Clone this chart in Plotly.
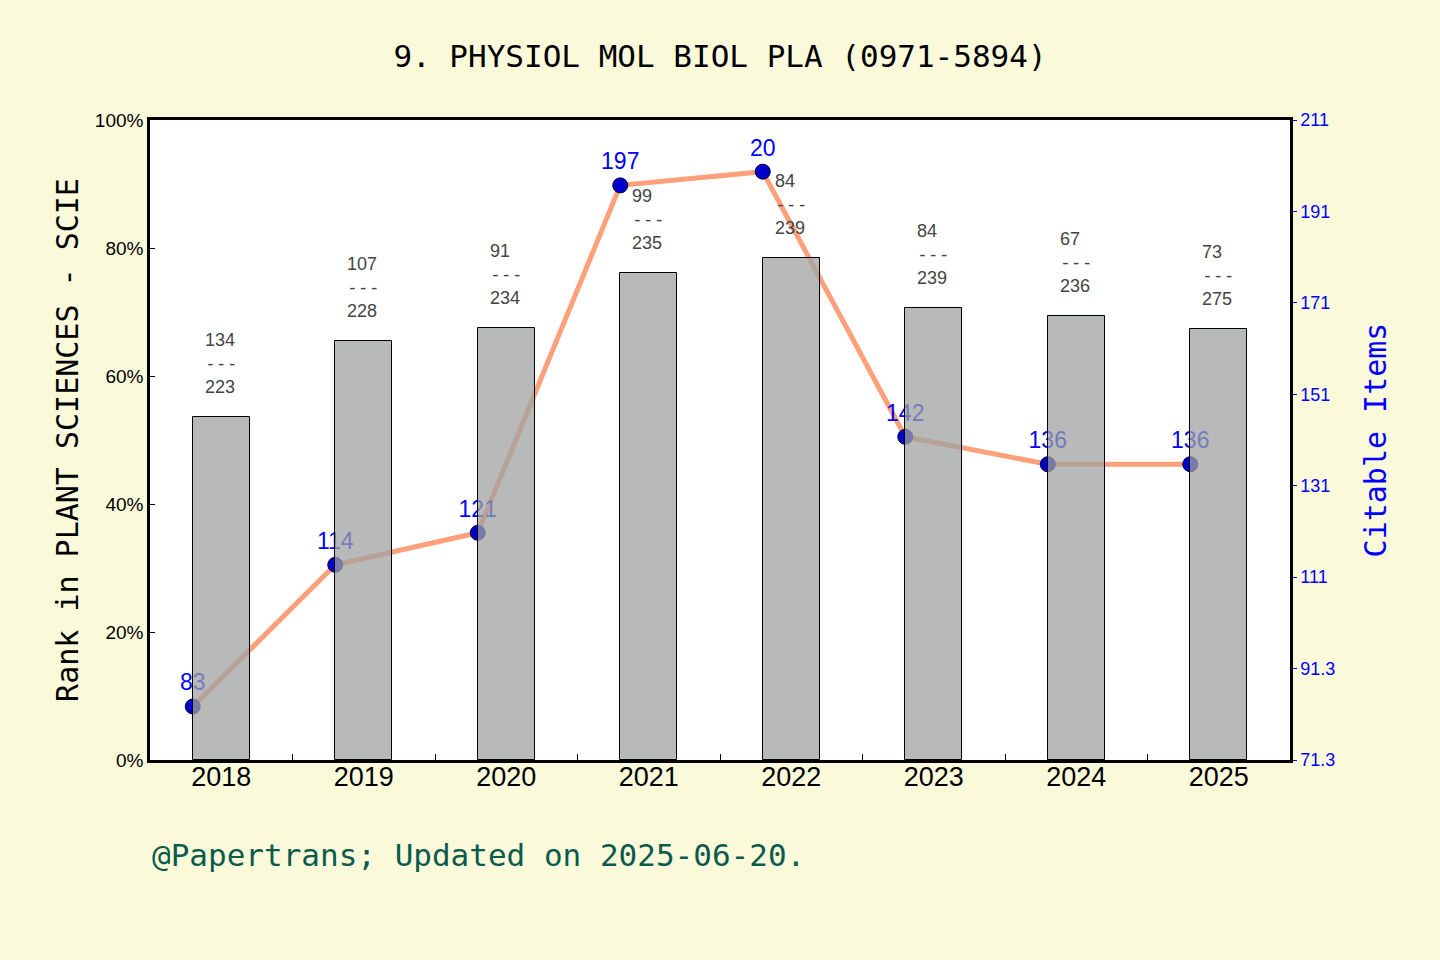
import plotly.graph_objects as go

years = ["2018", "2019", "2020", "2021", "2022", "2023", "2024", "2025"]
rank_pct = [0.536, 0.655, 0.675, 0.761, 0.784, 0.706, 0.694, 0.673]
rank_num = [134, 107, 91, 99, 84, 84, 67, 73]
rank_total = [223, 228, 234, 235, 239, 239, 236, 275]
citable = [83, 114, 121, 197, 200, 142, 136, 136]
citable_labels = ["83", "114", "121", "197", "20", "142", "136", "136"]
right_ticks = [71.3, 91.3, 111.3, 131.3, 151.3, 171.3, 191.3, 211.3]
right_ticktext = ["71.3", "91.3", "111", "131", "151", "171", "191", "211"]
left_ticks = [0, 0.2, 0.4, 0.6, 0.8, 1.0]

xs = list(range(len(years)))
line_x = [i - 0.2 for i in xs]

MONO = "DejaVu Sans Mono"
SANS = "Liberation Sans"

fig = go.Figure()

# line on main y axis (right side), drawn below the bars
fig.add_trace(go.Scatter(
    x=line_x, y=citable, mode="lines+markers+text",
    text=citable_labels, textposition="top center",
    textfont=dict(family=SANS, size=23, color="#0000ff"),
    line=dict(color="#ffa07a", width=5),
    marker=dict(size=15, color="#0000cd", line=dict(color="#000033", width=1)),
    yaxis="y", cliponaxis=False, showlegend=False,
))

# bars on overlaying left axis, drawn on top
fig.add_trace(go.Bar(
    x=xs, y=rank_pct, width=0.4,
    marker=dict(color="rgba(160,161,162,0.75)", line=dict(color="black", width=1)),
    yaxis="y2", showlegend=False,
))

annotations = []
for i, (n, t, p) in enumerate(zip(rank_num, rank_total, rank_pct)):
    annotations.append(dict(
        x=i, y=p, xref="x", yref="y2",
        text=f"{n}<br><span style=\"font-family:'{MONO}'\">---</span><br>{t}",
        showarrow=False, align="left", yanchor="bottom", yshift=18,
        font=dict(family=SANS, size=18, color="#444444"),
    ))

annotations.append(dict(
    x=0, y=-0.148, xref="paper", yref="paper", xanchor="left", yanchor="middle",
    text="@Papertrans; Updated on 2025-06-20.", showarrow=False,
    font=dict(family=MONO, size=31, color="#0b5a4c"),
))

fig.update_layout(
    width=1440, height=960,
    margin=dict(l=150, r=150, t=120, b=200),
    paper_bgcolor="#fafadb", plot_bgcolor="white",
    title=dict(text="9. PHYSIOL MOL BIOL PLA (0971-5894)", x=0.5, xanchor="center",
               y=1 - 56 / 960, yanchor="middle",
               font=dict(family=MONO, size=31, color="black")),
    xaxis=dict(
        range=[-0.5, 7.5], tickvals=xs, ticktext=years, ticks="",
        tickfont=dict(family=SANS, size=27, color="black"),
        ticklabelstandoff=-9,
        showline=True, linecolor="black", linewidth=2.5, mirror=True,
        showgrid=False, zeroline=False,
        minor=dict(tickvals=[i + 0.5 for i in xs[:-1]], ticks="inside", ticklen=6,
                   tickcolor="black", tickwidth=1, showgrid=False),
    ),
    yaxis=dict(
        side="right", range=[71.3, 211.3], tickvals=right_ticks, ticktext=right_ticktext,
        ticks="outside", ticklen=4, tickcolor="blue",
        tickfont=dict(family=SANS, size=18, color="blue"),
        showline=True, linecolor="black", linewidth=2.5, showgrid=False, zeroline=False,
        title=dict(text="Citable Items", font=dict(family=MONO, size=30, color="blue"), standoff=31),
    ),
    yaxis2=dict(
        overlaying="y", side="left", range=[0, 1], tickvals=left_ticks, tickformat=".0%",
        ticks="inside", ticklen=5, tickcolor="black",
        tickfont=dict(family=SANS, size=19, color="black"),
        showline=True, linecolor="black", linewidth=2.5, showgrid=False, zeroline=False,
        title=dict(text="Rank in PLANT SCIENCES - SCIE", font=dict(family=MONO, size=30, color="black"), standoff=8),
    ),
    annotations=annotations,
    bargap=0,
)

fig.write_html("out.html")
